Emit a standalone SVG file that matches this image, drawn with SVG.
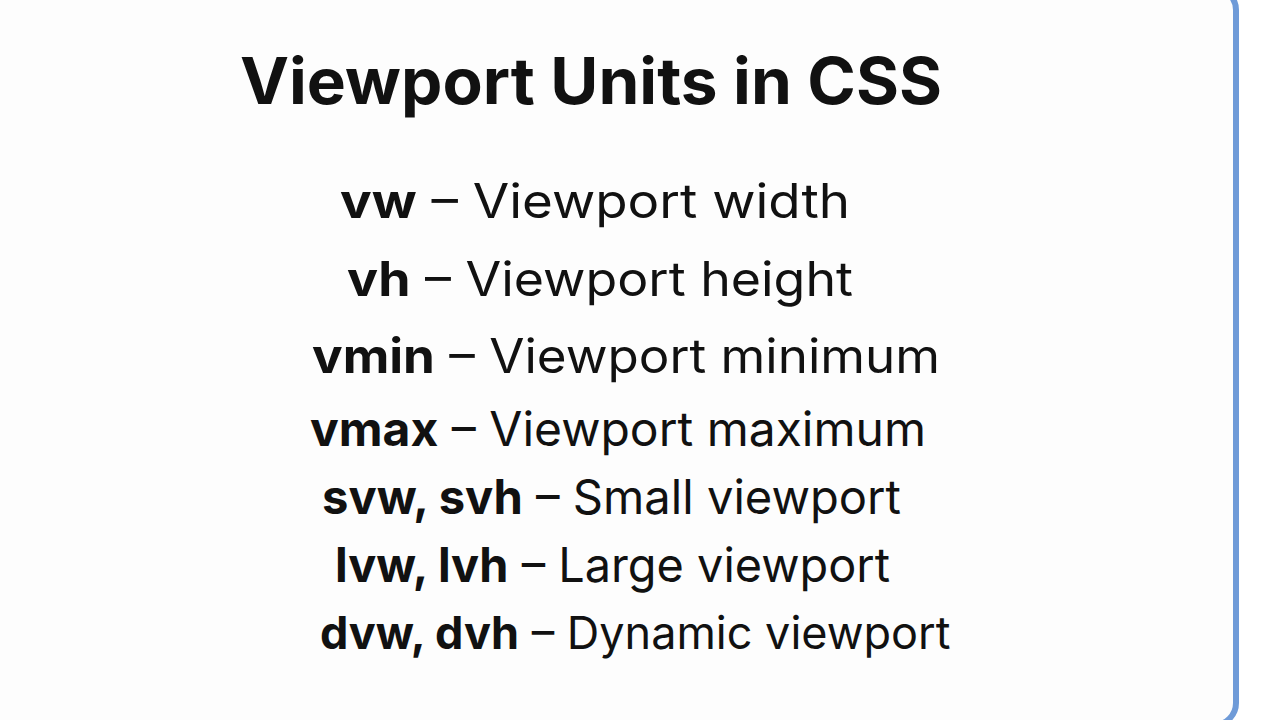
<svg xmlns="http://www.w3.org/2000/svg" width="1280" height="720" viewBox="0 0 1280 720">
<style>
text{font-family:Inter,"Noto Sans",sans-serif;fill:#111}
.t{font-weight:700;font-size:64px}
.l{font-size:48px}
.b{font-weight:700}
</style>
<rect width="1280" height="720" fill="#fff"/>
<rect x="-30" y="-12" width="1266" height="737" rx="22" fill="#fdfdfd" stroke="#6f9bd8" stroke-width="6"/>
<g id="title"><text class="t" x="240" y="104" textLength="702" lengthAdjust="spacingAndGlyphs">Viewport Units in CSS</text></g>
<g id="items">
<text class="l" x="340" y="218" textLength="510" lengthAdjust="spacingAndGlyphs"><tspan class="b">vw</tspan> – Viewport width</text>
<text class="l" x="347" y="296" textLength="506" lengthAdjust="spacingAndGlyphs"><tspan class="b">vh</tspan> – Viewport height</text>
<text class="l" x="312" y="373" textLength="628" lengthAdjust="spacingAndGlyphs"><tspan class="b">vmin</tspan> – Viewport minimum</text>
<text class="l" x="310" y="446" textLength="616" lengthAdjust="spacingAndGlyphs"><tspan class="b">vmax</tspan> – Viewport maximum</text>
<text class="l" x="322" y="514" textLength="579" lengthAdjust="spacingAndGlyphs"><tspan class="b">svw,  svh</tspan> – Small viewport</text>
<text class="l" x="335" y="582" textLength="555" lengthAdjust="spacingAndGlyphs"><tspan class="b">lvw,  lvh</tspan> – Large viewport</text>
<text class="l" x="320" y="649" style="font-size:45px"><tspan class="b">dvw,  dvh</tspan> – Dynamic viewport</text>
</g>
</svg>
